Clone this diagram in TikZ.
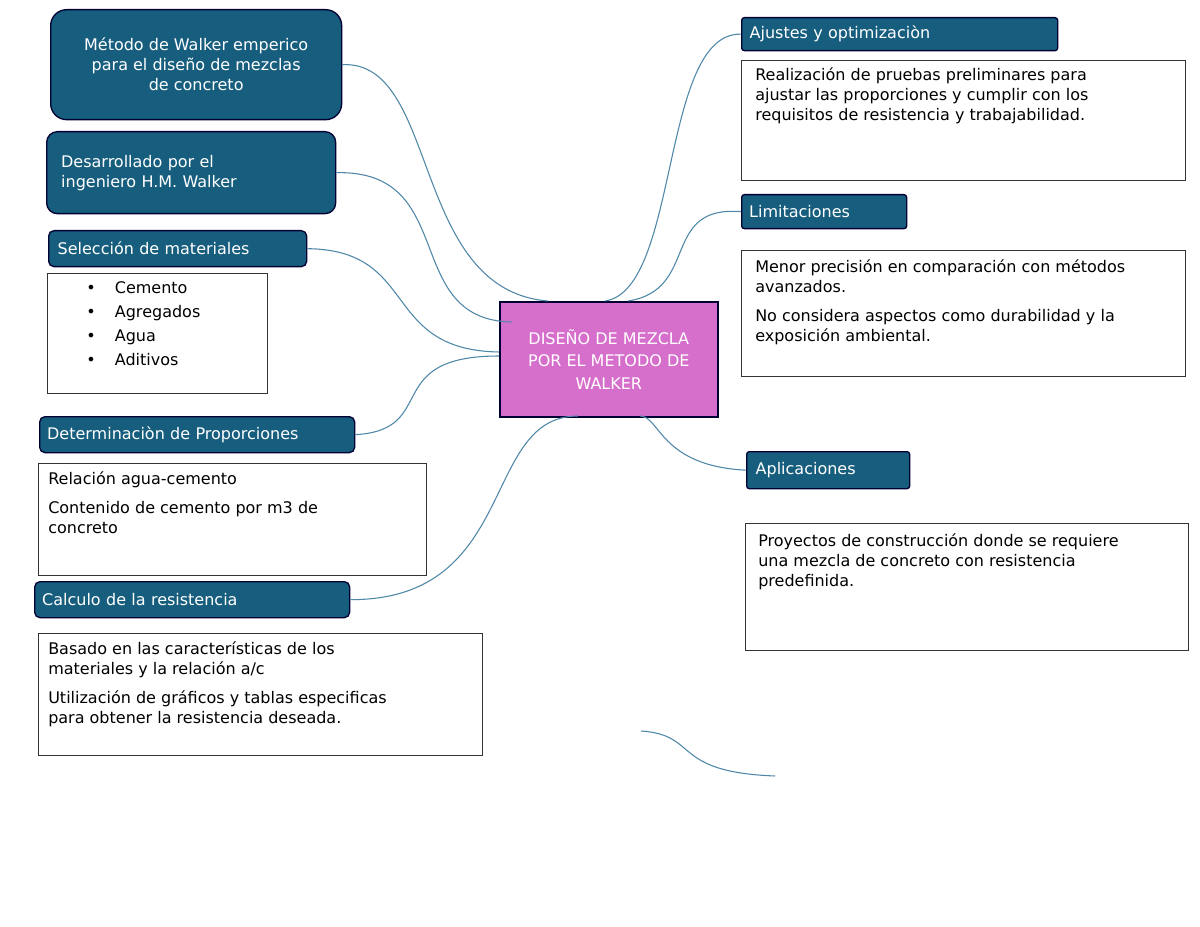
\documentclass[tikz,border=0pt]{standalone}
\usepackage{fontspec}
\setmainfont{DejaVu Sans}
\begin{document}
\begin{tikzpicture}[x=0.75pt,y=-0.75pt,
  hdr/.style={draw=black!80!blue,line width=1pt,fill=hdrc,text=white,rounded corners=4pt,anchor=north west,inner sep=0pt,font=\fontsize{12}{15}\selectfont},
  wbox/.style={draw=black!80,line width=0.8pt,fill=white,anchor=north west,inner sep=0pt,font=\fontsize{12}{15}\selectfont,align=left},
  con/.style={draw=linec,line width=0.8pt}]
\definecolor{hdrc}{HTML}{175E7E}
\definecolor{linec}{HTML}{4F87A8}
\definecolor{pinkc}{HTML}{D66FCB}
\useasboundingbox[fill=white] (0,0) rectangle (1200,927);
% left headers
\node[hdr,rounded corners=12pt,minimum width=291*0.75pt,minimum height=110*0.75pt,align=center] (b1) at (50,9) {Método de Walker emperico\\para el diseño de mezclas\\de concreto};
\node[hdr,rounded corners=8pt,minimum width=289*0.75pt,minimum height=82*0.75pt,text width=260*0.75pt,align=left] (b2) at (46,131) {Desarrollado por el\\ingeniero H.M. Walker};
\node[hdr,minimum width=258*0.75pt,minimum height=36*0.75pt,text width=240*0.75pt,align=left] (b3) at (48,230) {Selección de materiales};
\node[wbox,minimum width=220*0.75pt,minimum height=120*0.75pt] (l3) at (47,273) {};
\node[anchor=north west,font=\fontsize{12}{18}\selectfont,align=left,inner sep=0pt] (l3t) at (86,281) {\textbullet\hspace{1.2em}Cemento\\\textbullet\hspace{1.2em}Agregados\\\textbullet\hspace{1.2em}Agua\\\textbullet\hspace{1.2em}Aditivos};
\node[hdr,minimum width=315*0.75pt,minimum height=36*0.75pt,text width=300*0.75pt,align=left] (b4) at (39,416) {Determinaciòn de Proporciones};
\node[wbox,minimum width=388*0.75pt,minimum height=112*0.75pt] (w4) at (38,463) {};
\node[anchor=north west,inner sep=0pt,font=\fontsize{12}{15}\selectfont,align=left] (w4t) at (48,471) {Relación agua-cemento\\[7pt]Contenido de cemento por m3 de\\concreto};
\node[hdr,minimum width=315*0.75pt,minimum height=36*0.75pt,text width=300*0.75pt,align=left] (b5) at (34,581) {Calculo de la resistencia};
\node[wbox,minimum width=444*0.75pt,minimum height=122*0.75pt] (w5) at (38,633) {};
\node[anchor=north west,inner sep=0pt,font=\fontsize{12}{15}\selectfont,align=left] (w5t) at (48,641) {Basado en las características de los\\materiales y la relación a/c\\[7pt]Utilización de gráficos y tablas especificas\\para obtener la resistencia deseada.};
% center
\node[draw=black!80!blue,line width=1.2pt,fill=pinkc,text=white,anchor=north west,minimum width=218*0.75pt,minimum height=115*0.75pt,align=center,inner sep=0pt,font=\fontsize{12}{17}\selectfont] (c) at (499,301) {DISEÑO DE MEZCLA\\POR EL METODO DE\\WALKER};
% right
\node[hdr,rounded corners=2pt,minimum width=316*0.75pt,minimum height=33*0.75pt,text width=300*0.75pt,align=left] (r1) at (741,17) {Ajustes y optimizaciòn};
\node[wbox,minimum width=444*0.75pt,minimum height=120*0.75pt] (rw1) at (741,60) {};
\node[anchor=north west,inner sep=0pt,font=\fontsize{12}{15}\selectfont,align=left] (rw1t) at (755,67) {Realización de pruebas preliminares para\\ajustar las proporciones y cumplir con los\\requisitos de resistencia y trabajabilidad.};
\node[hdr,rounded corners=2pt,minimum width=165*0.75pt,minimum height=34*0.75pt,text width=150*0.75pt,align=left] (r2) at (741,194) {Limitaciones};
\node[wbox,minimum width=444*0.75pt,minimum height=126*0.75pt] (rw2) at (741,250) {};
\node[anchor=north west,inner sep=0pt,font=\fontsize{12}{15}\selectfont,align=left] (rw2t) at (755,259) {Menor precisión en comparación con métodos\\avanzados.\\[7pt]No considera aspectos como durabilidad y la\\exposición ambiental.};
\node[hdr,rounded corners=2pt,minimum width=163*0.75pt,minimum height=37*0.75pt,text width=145*0.75pt,align=left] (r3) at (746,451) {Aplicaciones};
\node[wbox,minimum width=443*0.75pt,minimum height=127*0.75pt] (rw3) at (745,523) {};
\node[anchor=north west,inner sep=0pt,font=\fontsize{12}{15}\selectfont,align=left] (rw3t) at (758,533) {Proyectos de construcción donde se requiere\\una mezcla de concreto con resistencia\\predefinida.};
% connectors
\coordinate (c1) at (548,301); \coordinate (c2) at (512,322);
\coordinate (c3) at (499,352); \coordinate (c4) at (499,356);
\coordinate (c5) at (578,416); \coordinate (c6) at (605,301);
\coordinate (c7) at (628,301); \coordinate (c8) at (640,416);
\draw[con] (b1.east) .. controls (440,60) and (410,290) .. (c1);
\draw[con] (b2.east) .. controls (460,170) and (400,320) .. (c2);
\draw[con] (b3.east) .. controls (420,250) and (380,350) .. (c3);
\draw[con] (b4.east) .. controls (440,430) and (380,356) .. (c4);
\draw[con] (b5.east) .. controls (520,600) and (480,416) .. (c5);
\draw[con] (r1.west) .. controls (660,32) and (680,290) .. (c6);
\draw[con] (r2.west) .. controls (660,205) and (700,290) .. (c7);
\draw[con] (r3.west) .. controls (660,466) and (660,416) .. (c8);
\coordinate (s1) at (641,731); \coordinate (s2) at (775,776);
\draw[con] (s1) .. controls (700,735) and (670,772) .. (s2);
\end{tikzpicture}
\end{document}
